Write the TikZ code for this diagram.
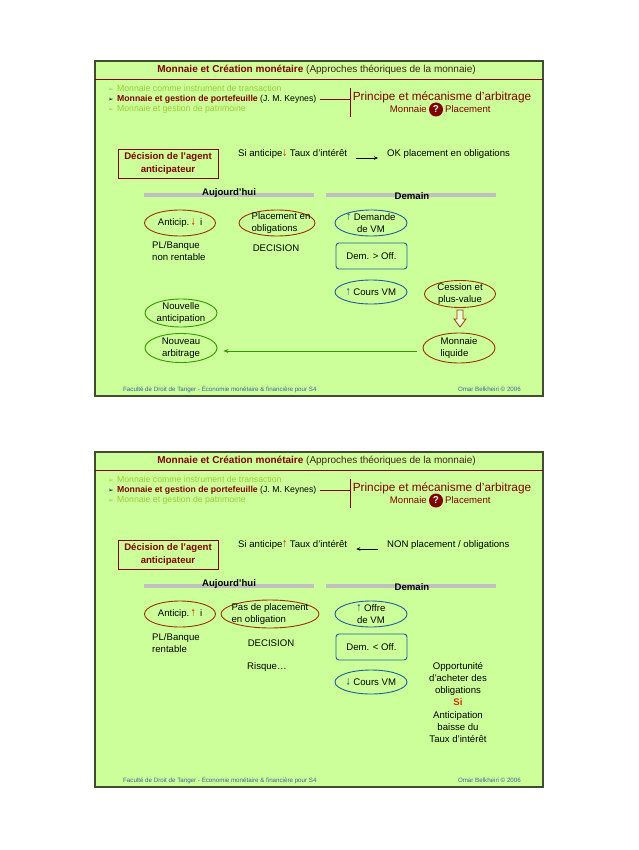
\documentclass[tikz,border=0pt]{standalone}
\usepackage{fontspec}
\setmainfont{Liberation Sans}
\newfontfamily\symfont{DejaVu Sans}
\usetikzlibrary{shapes.geometric,arrows.meta}
\definecolor{slidebg}{RGB}{204,255,153}
\definecolor{slideborder}{RGB}{66,76,48}
\definecolor{dred}{RGB}{128,0,0}
\definecolor{tbrown}{RGB}{70,30,20}
\definecolor{ered}{RGB}{153,51,0}
\definecolor{bgreen}{RGB}{153,204,51}
\definecolor{eblue}{RGB}{31,95,159}
\definecolor{egreen}{RGB}{51,153,0}
\definecolor{fblue}{RGB}{51,102,153}
\definecolor{bargray}{RGB}{192,192,192}
\definecolor{arrred}{RGB}{204,51,0}
\newcommand\fs[2]{\fontsize{#1}{#2}\selectfont}
\newcommand\bul{{\symfont\fontsize{6.5}{7}\selectfont ➢}\hspace{3.5pt}}
\newcommand\dnar[1]{{\symfont\color{#1}\scalebox{0.6}[1]{↓}}}
\newcommand\upar[1]{{\symfont\color{#1}\scalebox{0.6}[1]{↑}}}
\tikzset{
  txt/.style={inner sep=0pt, font=\fs{9.6}{11.5}},
  ovalR/.style={ellipse, draw=ered, line width=0.9pt, inner sep=0pt},
  ovalB/.style={ellipse, draw=eblue, line width=0.9pt, inner sep=0pt},
  ovalG/.style={ellipse, draw=egreen, line width=0.9pt, inner sep=0pt},
  boxB/.style={rectangle, rounded corners=3pt, draw=eblue, line width=0.9pt, inner sep=0pt, font=\fs{9.6}{11.5}},
  daybar/.style={draw=bargray, line width=4pt},
  foot/.style={inner sep=0pt, text=fblue, font=\fs{6.2}{7}},
  thinarrow/.style={-{Stealth[length=4pt,width=3.5pt]}, line width=0.6pt},
}
\newcommand\slidebase[2]{%
\begin{scope}[shift={(0,#2)}]
  \draw[draw=slideborder, line width=1.6pt, fill=slidebg] (95,61) rectangle (543,396);
  \node[txt, font=\fs{10}{12}] (#1title) at (316.5,70) {\textbf{\color{dred}Monnaie et Création monétaire} {\color{tbrown}(Approches théoriques de la monnaie)}};
  \draw[dred, line width=0.8pt] (95,79) -- (543,79);
  \node[txt, anchor=west, font=\fs{8.7}{10}, text=bgreen] (#1bA) at (108,88.5) {\bul Monnaie comme instrument de transaction};
  \node[txt, anchor=west, font=\fs{8.7}{10}] (#1bB) at (108,99) {\bul\textbf{\color{dred}Monnaie et gestion de portefeuille} (J. M. Keynes)};
  \node[txt, anchor=west, font=\fs{8.7}{10}, text=bgreen] (#1bC) at (108,109) {\bul Monnaie et gestion de patrimoine};
  \coordinate (#1vt) at (350,88);
  \coordinate (#1vb) at (350,117);
  \draw[dred, line width=0.8pt] ([xshift=3pt]#1bB.east) -- (#1bB.east -| #1vt);
  \draw[dred, line width=0.8pt] (#1vt) -- (#1vb);
  \node[txt, font=\fs{11.8}{13}, text=dred] (#1prin) at (442,97.5) {Principe et mécanisme d’arbitrage};
  \node[txt, anchor=east, text=dred] (#1mon) at (427,109.5) {Monnaie};
  \node[circle, fill=dred, text=white, inner sep=0pt, minimum size=14pt, font=\bfseries\fs{10}{10}] (#1q) at (436,109.5) {?};
  \node[txt, anchor=west, text=dred] (#1pla) at (445,109.5) {Placement};
  \node[draw=dred, line width=0.8pt, minimum width=100pt, minimum height=29pt, inner sep=0pt, align=center, text=dred, font=\bfseries\fs{9.6}{13.5}] (#1dec) at (168,163.5) {Décision de l’agent\\anticipateur};
  \draw[daybar] (144,195) -- (314,195);
  \draw[daybar] (326,195) -- (496,195);
  \node[txt, font=\bfseries\fs{9.6}{11}] (#1auj) at (229,193) {Aujourd’hui};
  \node[txt, font=\bfseries\fs{9.6}{11}] (#1dem) at (412,196) {Demain};
  \node[foot, anchor=west] (#1fl) at (123,389) {Faculté de Droit de Tanger - Économie monétaire \& financière pour S4};
  \node[foot, anchor=east] (#1fr) at (521,389) {Omar Belkheiri © 2006};
\end{scope}}
\begin{document}
\begin{tikzpicture}[x=1pt,y=-1pt]
\useasboundingbox (0,0) rectangle (638,850);
\fill[white] (0,0) rectangle (638,850);

% ---------------- slide 1
\slidebase{s1}{0}
\begin{scope}
  \node[txt, anchor=west] (s1si) at (238,154) {Si anticipe\dnar{arrred} Taux d’intérêt};
  \node[txt, anchor=west] (s1ok) at (387,154) {OK placement en obligations};
  \draw[thinarrow] ([xshift=9pt,yshift=-4pt]s1si.east) -- ([xshift=-9pt,yshift=-4pt]s1ok.west);

  \node[ovalR, minimum width=71pt, minimum height=26pt] (s1ant) at (180,223) {};
  \node[txt] (s1antt) at (s1ant) {Anticip.\,\dnar{arrred}\, i};
  \node[txt, anchor=west, align=left, font=\fs{9.6}{12}] (s1pl) at (152,251) {PL/Banque\\non rentable};

  \node[ovalR, minimum width=76pt, minimum height=26pt] (s1plc) at (277,223) {};
  \node[txt, align=left] (s1plct) at ([xshift=4pt]s1plc.center) {Placement en\\obligations};
  \node[txt] (s1deci) at (276,248) {DECISION};

  \node[ovalB, minimum width=72pt, minimum height=26pt] (s1dvm) at (371,223) {};
  \node[txt, align=center] (s1dvmt) at (s1dvm) {\upar{eblue} Demande\\de VM};
  \node[boxB, minimum width=71pt, minimum height=26pt] (s1cmp) at (371.5,256) {Dem. > Off.};
  \node[ovalB, minimum width=72pt, minimum height=24pt] (s1cvm) at (371,292) {};
  \node[txt] (s1cvmt) at (s1cvm) {\upar{eblue} Cours VM};

  \node[ovalR, minimum width=71pt, minimum height=27pt] (s1ces) at (460,294) {};
  \node[txt, align=center] (s1cest) at (s1ces) {Cession et\\plus-value};
  \node[ovalR, minimum width=72pt, minimum height=30pt] (s1liq) at (459,348) {};
  \node[txt, align=left] (s1liqt) at (s1liq) {Monnaie\\liquide};

  \node[ovalG, minimum width=72pt, minimum height=28pt] (s1nan) at (181,313) {};
  \node[txt, align=center] (s1nant) at (s1nan) {Nouvelle\\anticipation};
  \node[ovalG, minimum width=72pt, minimum height=29pt] (s1nar) at (181,348) {};
  \node[txt, align=center] (s1nart) at (s1nar) {Nouveau\\arbitrage};

  \draw[ered, line width=0.8pt, fill=slidebg!40!white]
    ([xshift=-3pt,yshift=-2pt]s1ces.south) -- ++(0,9) -- ++(-3,0) -- ++(6,8) -- ++(6,-8) -- ++(-3,0) -- ++(0,-9) -- cycle;
  \draw[egreen, line width=0.8pt, -{Stealth[length=5pt,width=4pt]}] ([xshift=-6pt,yshift=-3pt]s1liq.west) -- ([xshift=6pt,yshift=-3pt]s1nar.east);
\end{scope}

% ---------------- slide 2
\slidebase{s2}{391}
\begin{scope}[shift={(0,391)}]
  \node[txt, anchor=west] (s2si) at (238,154) {Si anticipe\upar{arrred} Taux d’intérêt};
  \node[txt, anchor=west] (s2non) at (387,154) {NON placement / obligations};
  \draw[thinarrow] ([xshift=-9pt,yshift=-4pt]s2non.west) -- ([xshift=9pt,yshift=-4pt]s2si.east);

  \node[ovalR, minimum width=71pt, minimum height=26pt] (s2ant) at (180,223) {};
  \node[txt] (s2antt) at (s2ant) {Anticip.\,\upar{arrred}\, i};
  \node[txt, anchor=west, align=left, font=\fs{9.6}{12}] (s2pl) at (152,252) {PL/Banque\\rentable};

  \node[ovalR, minimum width=98pt, minimum height=28pt] (s2plc) at (270,223) {};
  \node[txt, align=left] (s2plct) at (s2plc) {Pas de placement\\en obligation};
  \node[txt] (s2deci) at (271,252) {DECISION};
  \node[txt, anchor=west] (s2risk) at (247,276) {Risque…};

  \node[ovalB, minimum width=72pt, minimum height=26pt] (s2ovm) at (371,223) {};
  \node[txt, align=center] (s2ovmt) at (s2ovm) {\upar{eblue} Offre\\de VM};
  \node[boxB, minimum width=71pt, minimum height=26pt] (s2cmp) at (371.5,256) {Dem. < Off.};
  \node[ovalB, minimum width=72pt, minimum height=24pt] (s2cvm) at (371,291) {};
  \node[txt] (s2cvmt) at (s2cvm) {\dnar{eblue} Cours VM};

  \node[txt, align=center, font=\fs{9.6}{12.2}] (s2opp) at (458,311.5) {Opportunité\\d’acheter des\\obligations\\{\bfseries\color{arrred}Si}\\Anticipation\\baisse du\\Taux d’intérêt};
\end{scope}
\end{tikzpicture}
\end{document}
